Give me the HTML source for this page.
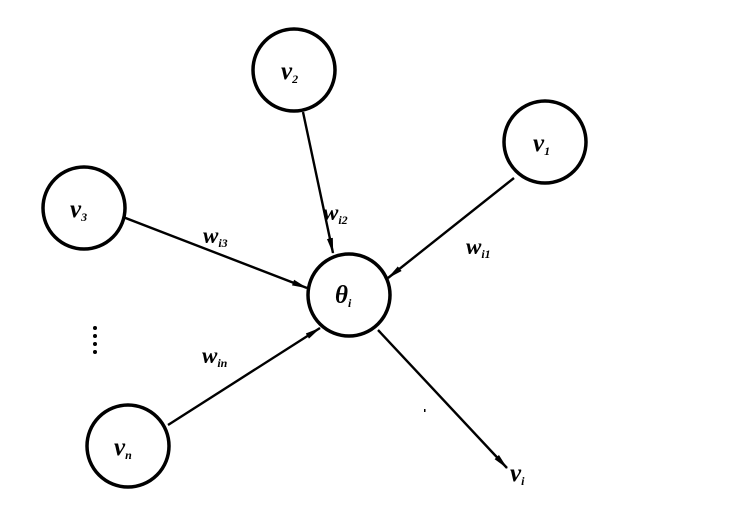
<!DOCTYPE html>
<html><head><style>
html,body{margin:0;padding:0;background:#fff;}
svg{display:block;}
text{font-family:"Liberation Serif",serif;font-style:italic;font-weight:bold;fill:#000;}
</style></head><body>
<svg width="730" height="512" viewBox="0 0 730 512">
<defs>
<marker id="a" markerWidth="16" markerHeight="8" refX="15" refY="4" orient="auto" markerUnits="userSpaceOnUse">
<path d="M0,1 L16,4 L0,7 Z" fill="#000"/>
</marker>
</defs>
<g fill="none" stroke="#000" stroke-width="3.5">
<circle cx="294" cy="70" r="41"/>
<circle cx="545" cy="142" r="41"/>
<circle cx="84" cy="208" r="41"/>
<circle cx="349" cy="295" r="41"/>
<circle cx="128" cy="446" r="41"/>
</g>
<g stroke="#000" stroke-width="2.4" marker-end="url(#a)">
<line x1="303" y1="112" x2="333" y2="253"/>
<line x1="514" y1="178" x2="388" y2="278"/>
<line x1="123" y1="217" x2="307" y2="288"/>
<line x1="168" y1="425" x2="320" y2="328"/>
<line x1="378" y1="330" x2="507" y2="468"/>
</g>
<g fill="#000">
<circle cx="95" cy="328" r="2"/><circle cx="95" cy="336" r="2"/><circle cx="95" cy="344" r="2"/><circle cx="95" cy="352" r="2"/>
<rect x="424" y="409" width="1.5" height="3"/>
</g>
<g font-size="25">
<text x="281" y="79">v<tspan font-size="12" dy="4">2</tspan></text>
<text x="533" y="151">v<tspan font-size="12" dy="4">1</tspan></text>
<text x="70" y="217">v<tspan font-size="12" dy="4">3</tspan></text>
<text x="335" y="303">θ<tspan font-size="12" dy="4">i</tspan></text>
<text x="114" y="455">v<tspan font-size="12" dy="4">n</tspan></text>
<text x="510" y="481">v<tspan font-size="12" dy="4">i</tspan></text>
<text x="323" y="220" font-size="23">w<tspan font-size="12" dy="4">i2</tspan></text>
<text x="466" y="254" font-size="23">w<tspan font-size="12" dy="4">i1</tspan></text>
<text x="203" y="243" font-size="23">w<tspan font-size="12" dy="4">i3</tspan></text>
<text x="202" y="363" font-size="23">w<tspan font-size="12" dy="4">in</tspan></text>
</g>
</svg>
</body></html>
